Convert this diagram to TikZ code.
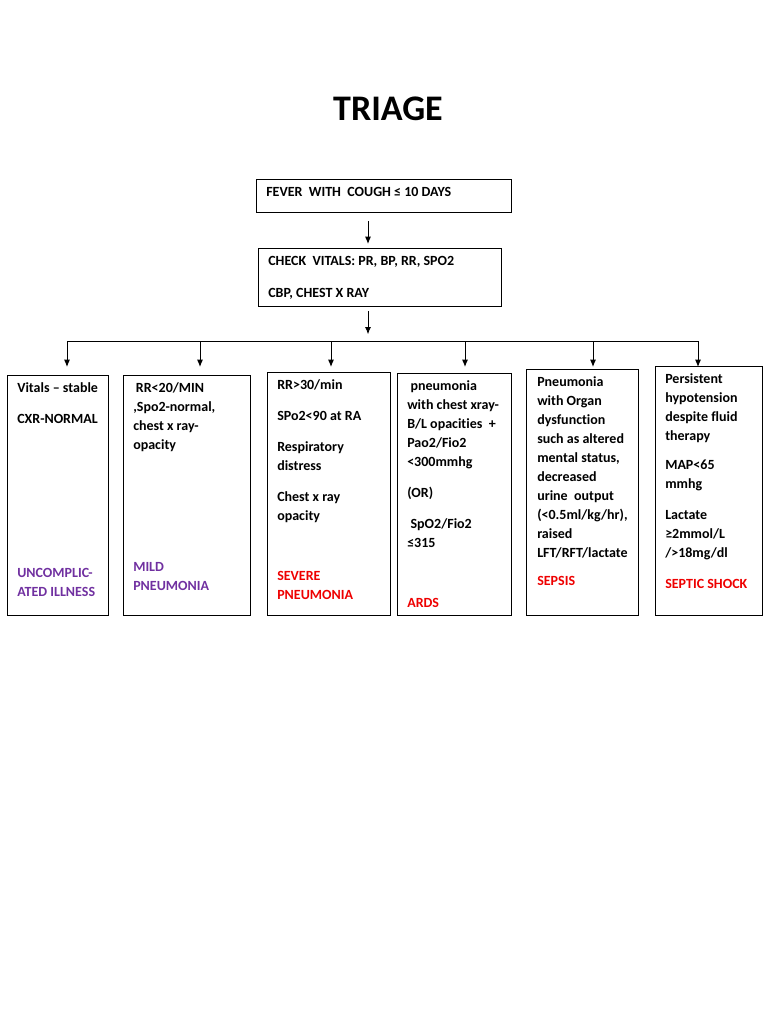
\documentclass[tikz,border=0pt]{standalone}
\usepackage{fontspec}
\setmainfont{Carlito}[Ligatures=CommonOff]
\usetikzlibrary{arrows.meta, calc, positioning}
\usepackage{xcolor}

\definecolor{mildpurple}{RGB}{112,48,160}
\definecolor{alertred}{RGB}{238,0,0}

\begin{document}
\begin{tikzpicture}[x=0.75pt, y=-0.75pt,
    box/.style={draw, line width=0.8pt, anchor=north west, inner sep=0pt},
    txt/.style={anchor=north west, inner sep=0pt, align=left,
      font=\fontsize{10.5}{14.25}\selectfont\bfseries},
    arr/.style={line width=0.7pt, -{Latex[length=5.5pt, width=4.5pt]}}]
  \useasboundingbox (0,0) rectangle (768,1024);

  % title
  \node[font=\fontsize{27}{30}\selectfont\bfseries] (title) at (388,109) {TRIAGE};

  % top boxes
  \node[box, minimum width=191.25pt, minimum height=24.75pt] (fever) at (256,179) {};
  \node[txt] (fevertxt) at ([shift={(10,8)}]fever.north west)
    {FEVER~ WITH~ COUGH ≤ 10 DAYS};

  \node[box, minimum width=182.25pt, minimum height=43.5pt] (vitals) at (258,248) {};
  \node[txt] (vitalstxt) at ([shift={(10,8)}]vitals.north west)
    {CHECK~ VITALS: PR, BP, RR, SPO2\\[9.5pt]CBP, CHEST X RAY};

  % outcome boxes
  \node[box, minimum width=75.75pt, minimum height=180pt]   (b1) at (7,375) {};
  \node[box, minimum width=95.25pt, minimum height=180pt]   (b2) at (123,375) {};
  \node[box, minimum width=92.25pt, minimum height=182.25pt] (b3) at (267,372) {};
  \node[box, minimum width=85.5pt,  minimum height=181.5pt]  (b4) at (397,373) {};
  \node[box, minimum width=84pt,    minimum height=184.5pt]  (b5) at (526,369) {};
  \node[box, minimum width=80.25pt, minimum height=186.75pt] (b6) at (655,366) {};

  % criteria
  \node[txt] (c1) at ([shift={(10,7)}]b1.north west)
    {Vitals -- stable\\[9.5pt]CXR-NORMAL};
  \node[txt] (c2) at ([shift={(10,7)}]b2.north west)
    {\hspace*{2pt}RR<20/MIN\\,Spo2-normal,\\chest x ray-\\opacity};
  \node[txt] (c3) at ([shift={(10,7)}]b3.north west)
    {RR>30/min\\[9pt]SPo2<90 at RA\\[9pt]Respiratory\\distress\\[9pt]Chest x ray\\opacity};
  \node[txt] (c4) at ([shift={(10,7)}]b4.north west)
    {\hspace*{2.5pt}pneumonia\\with chest xray-\\B/L opacities~ +\\Pao2/Fio2\\<300mmhg\\[9pt](OR)\\[9pt]\hspace*{2.5pt}SpO2/Fio2\\≤315};
  \node[txt] (c5) at ([shift={(11,7)}]b5.north west)
    {Pneumonia\\with Organ\\dysfunction\\such as altered\\mental status,\\decreased\\urine~ output\\(<0.5ml/kg/hr),\\raised\\LFT/RFT/lactate};
  \node[txt] (c6) at ([shift={(10,7)}]b6.north west)
    {Persistent\\hypotension\\despite fluid\\therapy\\[8pt]MAP<65\\mmhg\\[9pt]Lactate\\≥2mmol/L\\/>18mg/dl};

  % diagnoses
  \node[txt, text=mildpurple] (o1) at ([shift={(10,193)}]b1.north west) {UNCOMPLIC-\\ATED ILLNESS};
  \node[txt, text=mildpurple] (o2) at ([shift={(10,187)}]b2.north west) {MILD\\PNEUMONIA};
  \node[txt, text=alertred] (o3) at ([shift={(10,199)}]b3.north west) {SEVERE\\PNEUMONIA};
  \node[txt, text=alertred] (o4) at ([shift={(10,225)}]b4.north west) {ARDS};
  \node[txt, text=alertred] (o5) at ([shift={(11,207)}]b5.north west) {SEPSIS};
  \node[txt, text=alertred] (o6) at ([shift={(10,213)}]b6.north west) {SEPTIC SHOCK};

  % connectors
  \coordinate (fork) at (368,341);
  \coordinate (tips) at (0,367);
  \coordinate (d1) at (67,341);
  \coordinate (d2) at (200,341);
  \coordinate (d3) at (331,341);
  \coordinate (d4) at (465,341);
  \coordinate (d5) at (593,341);
  \coordinate (d6) at (698,341);

  \draw[arr, shorten <=6pt, shorten >=3pt] (fever.south -| fork) -- (vitals.north -| fork);
  \draw[arr, shorten <=3pt, shorten >=5pt] (vitals.south -| fork) -- (fork);
  \draw[line width=0.7pt] (d1) -- (d6);
  \foreach \i in {1,...,6}
    \draw[arr] (d\i) -- (d\i |- tips);
\end{tikzpicture}
\end{document}
